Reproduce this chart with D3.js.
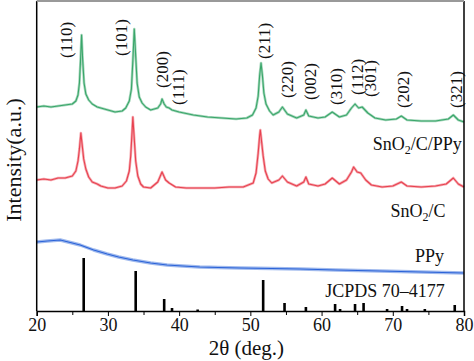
<!DOCTYPE html>
<html lang="en">
<head>
<meta charset="utf-8">
<title>XRD patterns</title>
<script src="https://d3js.org/d3.v7.min.js"></script>
<style>
  body { margin: 0; background: #fff; }
  svg text { font-family: "Liberation Serif", "Times New Roman", serif; fill: #111; }
</style>
</head>
<body>
<div id="chart"></div>
<script>
// ---- data (2θ in degrees, intensity in a.u.) ----
var greenTheta = [20,21,22,23,24,25,25.5,25.8,26.0,26.15,26.3,26.45,26.65,26.9,27.3,27.8,28.5,29,30,31,32,32.5,33.0,33.3,33.5,33.7,33.9,34.1,34.4,34.8,35.3,36,37,37.4,37.6,37.9,38.2,38.6,39,40,42,44,46,48,49.5,50.3,50.8,51.1,51.3,51.5,51.7,51.9,52.2,52.7,53.2,54,54.5,55.2,56.5,57.5,57.8,58.2,59.5,60.5,61.5,62.5,63.5,64.2,64.7,65.2,65.7,66.5,67.5,69,70.5,71.2,72,74,76,77.8,78.5,79.2,80];
var greenInt   = [204,205,204,205,206,207,210,216,228,250,276,252,228,217,211,207,204,203,201,199,200,203,210,222,250,282,255,228,214,208,204,201,203,207,212,207,204,203,201,199,196,194,193,192,193,196,203,215,235,248,235,218,207,200,196,199,204,197,193,196,201,195,193,194,199,194,196,203,207,203,204,198,193,191,192,195,191,190,190,192,196,191,189];

var redTheta = [20,21,22,23,24,25,25.5,25.8,26.0,26.2,26.4,26.6,26.9,27.3,27.8,28.5,29,30,31,32,32.6,33.0,33.2,33.4,33.5,33.7,33.9,34.2,34.6,35,36,37,37.6,38.1,38.6,39.5,41,43,45,47,49,50.4,50.8,51.1,51.3,51.4,51.6,51.8,52.1,52.5,53,54,54.5,55.2,56.5,57.5,57.8,58.2,59.5,60.5,61.5,62.5,63.5,64.2,64.5,65.0,65.5,66.2,67,68.5,70,71.2,72,74,76,77.5,78.5,79.2,80];
var redInt   = [131,132,131,133,133,135,140,150,162,178,165,152,142,134,129,127,125,123,123,125,130,140,155,180,194,172,150,135,127,124,123,129,139,131,128,124,123,123,123,124,124,128,138,158,175,181,168,155,140,132,128,131,135,129,125,129,134,127,125,127,133,127,131,139,144,139,138,131,126,124,125,129,125,124,125,127,133,127,124];

var blueTheta = [20,21.5,23.3,25,26.1,28,29.9,31.5,33.5,36,38.3,40.5,42.9,45.5,48.6,53,57,62,68.2,74,80];
var blueInt   = [69,70,71,68,66,61,57,54,51,48,46,45,44,43.5,43,42.5,42,41,40,39,38];

// JCPDS 70-4177 reference lines
var refTheta = [26.6,33.9,37.9,39.0,42.6,51.8,54.8,57.8,61.9,62.6,64.7,65.9,69.2,71.3,72.0,74.5,78.7];
var refInt   = [53,40,12,3,1.5,31,8,4,7,2,7,8,2,5,2,2,6];

// Miller index labels
var hklNames = ["(110)","(101)","(200)","(111)","(211)","(220)","(002)","(310)","(112)","(301)","(202)","(321)"];
var hklTheta = [24.1,31.85,37.6,39.85,51.95,55.15,58.4,62.05,65.0,66.8,71.4,78.9];
var hklLevel = [253,255,223,206,252,213,211,206,216,214,203,203];

var xTicks = [20,30,40,50,60,70,80];
var xMinor = [25,35,45,55,65,75];

// ---- layout ----
var W = 474, H = 361;
var margin = {top: 1, right: 10, bottom: 50, left: 36.7};
var width = W - margin.left - margin.right,
    height = H - margin.top - margin.bottom;

var svg = d3.select("#chart").append("svg")
    .attr("width", W).attr("height", H);
var g = svg.append("g")
    .attr("transform", "translate(" + margin.left + "," + margin.top + ")");

var x = d3.scaleLinear().domain([20, 80]).range([0, width]);
var y = d3.scaleLinear().domain([0, 310]).range([height, 0]);

var line = d3.line()
    .x(function(d){ return x(d[0]); })
    .y(function(d){ return y(d[1]); });

function drawSeries(th, vals, color, band) {
  var pts = d3.zip(th, vals);
  // faint wider stroke stands in for the noisy trace
  g.append("path").datum(pts)
    .attr("d", line).attr("fill", "none")
    .attr("stroke", color).attr("stroke-opacity", 0.45)
    .attr("stroke-width", band).attr("stroke-linejoin", "round");
  g.append("path").datum(pts)
    .attr("d", line).attr("fill", "none")
    .attr("stroke", color).attr("stroke-width", 1.1)
    .attr("stroke-linejoin", "round");
}

drawSeries(greenTheta, greenInt, "#3aa66a", 2.6);
drawSeries(redTheta, redInt, "#e8414f", 2.6);
drawSeries(blueTheta, blueInt, "#2b63d8", 3.4);

// reference sticks
g.selectAll("rect.ref")
  .data(d3.zip(refTheta, refInt))
  .enter().append("rect")
    .attr("class", "ref")
    .attr("x", function(d){ return x(d[0]) - 1.3; })
    .attr("width", 2.6)
    .attr("y", function(d){ return y(d[1]); })
    .attr("height", function(d){ return y(0) - y(d[1]); })
    .attr("fill", "#000");

// hkl labels, rotated
g.selectAll("text.hkl")
  .data(d3.zip(hklNames, hklTheta, hklLevel))
  .enter().append("text")
    .attr("class", "hkl")
    .attr("transform", function(d){ return "translate(" + x(d[1]) + "," + y(d[2]) + ") rotate(-90)"; })
    .attr("dy", "0.35em")
    .style("font-size", "17px")
    .text(function(d){ return d[0]; });

// series names
function seriesLabel(xr, yb, main, sub, rest) {
  var t = g.append("text")
    .attr("x", xr).attr("y", yb)
    .attr("text-anchor", "end")
    .style("font-size", "18px");
  t.append("tspan").text(main);
  if (sub) {
    t.append("tspan").attr("dy", 4).style("font-size", "12px").text(sub);
    t.append("tspan").attr("dy", -4).text(rest);
  }
}
seriesLabel(x(79.7), 149, "SnO", "2", "/C/PPy");
seriesLabel(x(77.4), 216, "SnO", "2", "/C");
seriesLabel(x(77.2), 261, "PPy");
seriesLabel(x(77.3), 296, "JCPDS 70\u20134177");

// axes
var xAxis = g.append("g")
  .attr("transform", "translate(0," + height + ")")
  .call(d3.axisBottom(x).tickValues(xTicks).tickSize(5).tickPadding(2).tickFormat(d3.format("d")));
xAxis.select(".domain").attr("stroke-width", 1.5);
xAxis.selectAll("text").style("font-size", "18px").attr("fill", "#111");
g.append("g")
  .attr("transform", "translate(0," + height + ")")
  .call(d3.axisBottom(x).tickValues(xMinor).tickSize(4).tickFormat(""))
  .select(".domain").remove();

g.append("line")
  .attr("x1", 0).attr("x2", 0).attr("y1", 0).attr("y2", height)
  .attr("stroke", "#000").attr("stroke-width", 1.5);
g.append("line")
  .attr("x1", width).attr("x2", width).attr("y1", 0).attr("y2", height)
  .attr("stroke", "#000").attr("stroke-width", 1.5);
g.append("line")
  .attr("x1", 0).attr("x2", width).attr("y1", 0).attr("y2", 0)
  .attr("stroke", "#999").attr("stroke-width", 2);

// axis titles
g.append("text")
  .attr("x", width / 2 - 4).attr("y", height + 44)
  .attr("text-anchor", "middle")
  .style("font-size", "21px")
  .text("2\u03b8 (deg.)");

g.append("text")
  .attr("transform", "translate(" + (-16) + "," + (height / 2 + 4) + ") rotate(-90)")
  .attr("text-anchor", "middle")
  .style("font-size", "22px")
  .text("Intensity(a.u.)");
</script>
</body>
</html>
